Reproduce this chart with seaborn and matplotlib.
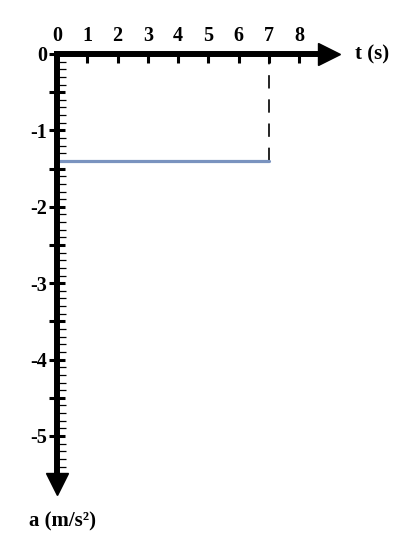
import numpy as np
import matplotlib
matplotlib.use("Agg")
import matplotlib.pyplot as plt
from matplotlib.ticker import FixedLocator, FuncFormatter
import seaborn as sns
import pandas as pd

# ---- data ----
t_values = [0, 7]
a_values = [-1.4, -1.4]
t_end = 7
a_level = -1.4
x_ticks = list(range(0, 9))
y_major = [0, -0.5, -1, -1.5, -2, -2.5, -3, -3.5, -4, -4.5, -5]
y_labels = {0: "0", -1: "-1", -2: "-2", -3: "-3", -4: "-4", -5: "-5"}
x_label = "t (s)"
y_label = "a (m/s\u00b2)"

sns.set_theme(style="white")
plt.rcParams["font.family"] = ["Liberation Serif", "DejaVu Serif"]
plt.rcParams["font.weight"] = "bold"

fig = plt.figure(figsize=(4.10, 5.54), dpi=100)
ax = fig.add_axes([0, 0, 1, 1])

# pixel-to-data mapping (origin at px (57,54))
PX_X = 30.25
PX_Y = 76.4
ax.set_xlim(-57 / PX_X, (410 - 57) / PX_X)
ax.set_ylim(-(554 - 54) / PX_Y, 54 / PX_Y)

df = pd.DataFrame({"t": t_values, "a": a_values})
sns.lineplot(data=df, x="t", y="a", ax=ax, color="#7a93bf", lw=2.3, zorder=2)
ax.vlines(t_end, a_level, 0, colors="black", lw=1.2,
          linestyles=(0, (8, 6.5)), zorder=1.5)

# spines as axes
for s in ["right", "bottom"]:
    ax.spines[s].set_visible(False)
x_axis_end = 8.62
y_axis_end = -5.48
ax.spines["top"].set_position(("data", 0))
ax.spines["left"].set_position(("data", 0))
ax.spines["top"].set_bounds(0, x_axis_end)
ax.spines["left"].set_bounds(y_axis_end, 0)
for s in ["top", "left"]:
    ax.spines[s].set_linewidth(4.3)
    ax.spines[s].set_color("black")
    ax.spines[s].set_capstyle("projecting")

# arrow heads
arr = 16
ax.plot(x_axis_end + 11 / PX_X, 0, marker=">", ms=arr, color="black",
        clip_on=False, zorder=3)
ax.plot(0, y_axis_end - 11 / PX_Y, marker="v", ms=arr, color="black",
        clip_on=False, zorder=3)

# x ticks (top)
ax.xaxis.set_ticks_position("top")
ax.xaxis.set_major_locator(FixedLocator(x_ticks))
ax.xaxis.set_minor_locator(FixedLocator([v for v in x_ticks if v % 2 == 0 and v > 0]))
ax.xaxis.set_major_formatter(FuncFormatter(lambda v, p: f"{int(round(v))}"))
ax.tick_params(axis="x", which="major", direction="in", length=6.2, width=2.2,
               color="black", labelsize=14.5, pad=6, top=True, bottom=False,
               labeltop=True, labelbottom=False, labelcolor="black")
ax.tick_params(axis="x", which="minor", direction="out", length=6.2, width=2.2,
               color="black", top=True, bottom=False)

# y ticks (left)
ax.yaxis.set_ticks_position("left")
ax.yaxis.set_major_locator(FixedLocator(y_major))
ax.yaxis.set_minor_locator(FixedLocator([-round(i * 0.1, 1) for i in range(1, 55)]))
ax.yaxis.set_major_formatter(FuncFormatter(
    lambda v, p: y_labels.get(int(round(v)), "") if abs(v - round(v)) < 1e-6 else ""))
ax.tick_params(axis="y", which="major", direction="inout", length=12, width=2.2,
               color="black", labelsize=14.5, pad=1.0, labelcolor="black")
ax.tick_params(axis="y", which="minor", direction="in", length=6.2, width=0.9,
               color="black")

for lbl in ax.get_xticklabels() + ax.get_yticklabels():
    lbl.set_fontweight("bold")

ax.set_xlabel("")
ax.set_ylabel("")
ax.text((355 - 57) / PX_X, 0, x_label, ha="left", va="center",
        fontsize=15, fontweight="bold", color="black")
ax.text(0.17, -(521 - 54) / PX_Y, y_label, ha="center", va="center",
        fontsize=15, fontweight="bold", color="black")

fig.savefig("out.png", dpi=100)
